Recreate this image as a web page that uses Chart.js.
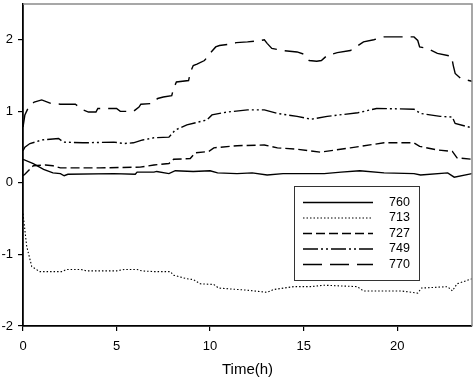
<!DOCTYPE html>
<html>
<head>
<meta charset="utf-8">
<script src="https://cdn.jsdelivr.net/npm/chart.js@4"></script>
<style>
html,body{margin:0;padding:0;background:#fff;}
#wrap{width:474px;height:382px;}
</style>
</head>
<body>
<div id="wrap"><canvas id="c" width="474" height="382"></canvas></div>
<script>
const seriesLabels = ["760", "713", "727", "749", "770"];
const xTickValues = [0, 5, 10, 15, 20];
const yTickValues = [-2, -1, 0, 1, 2];

const t760 = [0,0.55,1.1,1.6,2.0,2.2,2.4,4.85,6.0,6.1,7.0,7.15,7.8,8.14,9.1,10.0,10.4,11.44,12.25,13.05,13.9,16.1,17,18.0,19.3,20.9,21.25,22.7,23.05,24];
const v760 = [0.33,0.27,0.19,0.14,0.13,0.1,0.12,0.13,0.12,0.15,0.15,0.16,0.13,0.17,0.16,0.17,0.14,0.13,0.14,0.11,0.13,0.13,0.15,0.17,0.14,0.13,0.11,0.14,0.08,0.13];

const t713 = [0,0.2,0.47,0.9,2.07,2.34,3.1,3.4,5.0,5.4,6.1,6.35,7.0,7.87,8.05,8.76,9.1,9.47,10.2,10.46,12.0,13.05,13.4,14.47,15.36,16.1,17.86,18.2,20.2,21.1,21.3,22.7,22.95,23.2,24];
const v713 = [-0.43,-0.89,-1.17,-1.24,-1.24,-1.21,-1.21,-1.23,-1.23,-1.21,-1.21,-1.23,-1.24,-1.24,-1.29,-1.34,-1.35,-1.41,-1.42,-1.47,-1.5,-1.53,-1.49,-1.45,-1.45,-1.43,-1.45,-1.51,-1.51,-1.54,-1.47,-1.45,-1.51,-1.41,-1.34];

const t727 = [0,0.1,0.55,1.2,1.6,2.0,4.1,6.26,7.0,7.8,8.05,8.94,9.2,9.94,10.2,11.44,12.9,13.6,14.65,15.9,17.5,19.3,20.9,21.2,22.15,22.95,23.2,24];
const v727 = [0.1,0.12,0.24,0.25,0.24,0.21,0.21,0.22,0.25,0.27,0.33,0.34,0.42,0.44,0.49,0.52,0.53,0.49,0.47,0.43,0.49,0.56,0.56,0.51,0.46,0.44,0.35,0.33];

const t749 = [0,0.1,0.37,0.64,1.0,1.9,2.16,3.2,4.85,5.4,5.9,6.4,7.0,7.8,8.14,8.76,9.83,10.1,10.9,12.0,12.9,13.6,14.65,15.4,16.26,17.9,18.9,20.9,21.25,22.3,22.95,23.1,24];
const v749 = [0.45,0.5,0.55,0.57,0.6,0.62,0.57,0.56,0.57,0.55,0.56,0.6,0.63,0.64,0.74,0.81,0.88,0.95,0.99,1.02,1.02,0.97,0.93,0.89,0.93,0.98,1.04,1.03,0.97,0.93,0.92,0.83,0.77];

const t770 = [0,0.1,0.3,0.6,1.0,1.5,2.0,2.8,3.2,3.5,3.9,4.0,5.0,5.2,5.9,6.2,6.3,6.9,7.2,7.5,7.95,8.05,8.2,8.85,8.95,9.1,9.3,9.7,10.0,10.3,10.5,11.1,11.4,12.0,12.7,12.9,13.05,13.3,13.9,14.65,15.0,15.3,15.7,15.95,16.25,16.8,17.5,17.8,18.2,18.75,19.3,20.9,21.1,21.2,21.6,22.15,22.9,23.0,23.1,23.4,24];
const v770 = [0.78,0.95,1.06,1.13,1.16,1.11,1.1,1.1,1.02,0.99,0.99,1.04,1.04,1.0,1.0,1.06,1.1,1.11,1.18,1.2,1.22,1.32,1.41,1.43,1.55,1.64,1.66,1.71,1.81,1.9,1.92,1.94,1.96,1.97,1.99,2.0,1.95,1.88,1.85,1.83,1.8,1.71,1.7,1.71,1.78,1.82,1.85,1.9,1.97,2.0,2.04,2.04,1.99,1.9,1.88,1.81,1.77,1.64,1.53,1.46,1.42];

function pts(t, v) { return t.map((x, i) => ({x: x, y: v[i]})); }

const styles = [
  {dash: [], width: 1.4},
  {dash: [1.5, 2], width: 1.1},
  {dash: [9, 4], width: 1.4},
  {dash: [15, 3, 2, 3, 2, 3], width: 1.4},
  {dash: [19, 8], width: 1.4}
];
const allData = [pts(t760, v760), pts(t713, v713), pts(t727, v727), pts(t749, v749), pts(t770, v770)];

const datasets = seriesLabels.map((lab, i) => ({
  label: lab,
  data: allData[i],
  borderColor: '#000',
  borderWidth: styles[i].width,
  borderDash: styles[i].dash,
  pointRadius: 0,
  tension: 0,
  fill: false
}));

const FONT = '"Liberation Sans", Arial, sans-serif';

const framePlugin = {
  id: 'frame',
  afterDatasetsDraw(chart) {
    const {ctx, chartArea: a} = chart;
    ctx.save();
    ctx.strokeStyle = '#8a8a8a';
    ctx.lineWidth = 1.5;
    ctx.beginPath();
    ctx.moveTo(a.left, a.top);
    ctx.lineTo(a.right, a.top);
    ctx.lineTo(a.right, a.bottom);
    ctx.stroke();
    ctx.restore();
  }
};

const legendPlugin = {
  id: 'boxLegend',
  afterDraw(chart) {
    const ctx = chart.ctx;
    const bx = 294, by = 186, bw = 125, bh = 94;
    ctx.save();
    ctx.fillStyle = '#fff';
    ctx.fillRect(bx, by, bw, bh);
    ctx.strokeStyle = '#333';
    ctx.lineWidth = 1;
    ctx.setLineDash([]);
    ctx.strokeRect(bx + 0.5, by + 0.5, bw, bh);
    ctx.font = '12.5px ' + FONT;
    ctx.textBaseline = 'middle';
    ctx.textAlign = 'left';
    chart.data.datasets.forEach((ds, i) => {
      const y = by + 16.5 + i * 15.5;
      ctx.strokeStyle = '#000';
      ctx.lineWidth = ds.borderWidth;
      ctx.setLineDash(ds.borderDash);
      ctx.beginPath();
      ctx.moveTo(303, y);
      ctx.lineTo(373, y);
      ctx.stroke();
      ctx.setLineDash([]);
      ctx.fillStyle = '#000';
      ctx.fillText(ds.label, 389, y);
    });
    ctx.restore();
  }
};

new Chart(document.getElementById('c'), {
  type: 'line',
  data: {datasets: datasets},
  options: {
    responsive: false,
    animation: false,
    events: [],
    layout: {padding: {top: 4, right: 2, left: 0, bottom: 0}},
    plugins: {legend: {display: false}, tooltip: {enabled: false}},
    scales: {
      x: {
        type: 'linear',
        min: 0, max: 24,
        afterBuildTicks(s) { s.ticks = xTickValues.map(v => ({value: v})); },
        afterFit(s) { s.height = 56; s.paddingLeft = 0; s.paddingRight = 0; },
        grid: {drawOnChartArea: false, drawTicks: true, tickLength: 5, color: '#000', lineWidth: 1.2},
        border: {display: true, color: '#000', width: 1.8},
        ticks: {color: '#000', font: {family: FONT, size: 13}, padding: 8, maxRotation: 0, autoSkip: false},
        title: {display: true, text: 'Time(h)', color: '#000', font: {family: FONT, size: 15}, padding: {top: 0, bottom: 3}}
      },
      y: {
        type: 'linear',
        min: -2, max: 2.5,
        afterBuildTicks(s) { s.ticks = yTickValues.map(v => ({value: v})); },
        afterFit(s) { s.width = 23; s.paddingTop = 0; s.paddingBottom = 0; },
        grid: {drawOnChartArea: false, drawTicks: true, tickLength: 5, color: '#000', lineWidth: 1.2},
        border: {display: true, color: '#000', width: 1.8},
        ticks: {color: '#000', font: {family: FONT, size: 13}, padding: 5, autoSkip: false}
      }
    }
  },
  plugins: [framePlugin, legendPlugin]
});
</script>
</body>
</html>
